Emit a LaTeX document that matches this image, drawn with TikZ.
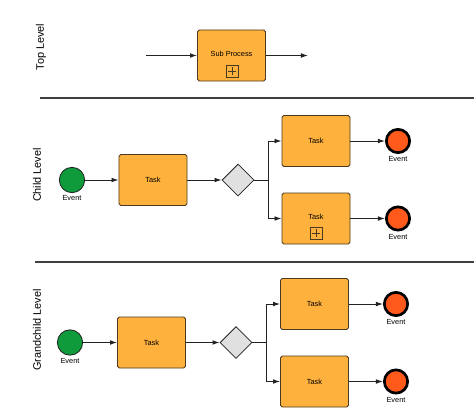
\documentclass[tikz,border=0pt]{standalone}
\usepackage{fontspec}
\setmainfont{Liberation Sans}
\usetikzlibrary{arrows.meta,shapes.geometric}
\definecolor{taskfill}{HTML}{FFB13D}
\definecolor{taskline}{HTML}{4A3A20}
\definecolor{startfill}{HTML}{0F9B3B}
\definecolor{endfill}{HTML}{FF5A1C}
\definecolor{gatefill}{HTML}{E0E0E0}
\definecolor{flowline}{HTML}{222222}
\tikzset{
	task/.style={draw=taskline, fill=taskfill, line width=0.8pt, rounded corners=1.5pt,
		minimum width=2.04cm, minimum height=1.53cm, inner sep=0pt,
		font=\fontsize{6.3}{7}\selectfont},
	plusbox/.style={draw=taskline, line width=0.8pt, minimum size=0.36cm, inner sep=0pt,
		path picture={\draw[taskline, line width=0.8pt]
			([xshift=-0.12cm]path picture bounding box.center) -- ([xshift=0.12cm]path picture bounding box.center)
			([yshift=-0.12cm]path picture bounding box.center) -- ([yshift=0.12cm]path picture bounding box.center);}},
	startevent/.style={circle, draw=flowline, fill=startfill, line width=0.7pt, minimum size=0.76cm, inner sep=0pt},
	endevent/.style={circle, draw=black, fill=endfill, line width=2.3pt, minimum size=0.7cm, inner sep=0pt},
	eventlabel/.style={font=\fontsize{6.3}{7}\selectfont, inner sep=0pt, label distance=2pt},
	gate/.style={diamond, draw=flowline, fill=gatefill, line width=0.7pt, minimum size=0.96cm, inner sep=0pt},
	level/.style={rotate=90, font=\fontsize{9.3}{11}\selectfont},
	flow/.style={draw=flowline, line width=0.8pt, -{Latex[length=6pt,width=4pt]}},
	separator/.style={draw=black!75, line width=0.9pt}
}

\begin{document}
\begin{tikzpicture}[x=0.03cm, y=-0.03cm]
			%%%%% START %%%%%
			\useasboundingbox (0, 0) rectangle (474, 420);
			
			% top level
			\node[level] (top-label) at (41, 47) {Top Level};
			\node[task] (sp) at (231.5, 55.5) {\raisebox{3pt}{Sub Process}};
			\node[plusbox] (sp-plus) at (232, 71) {};
			\coordinate (sp-in) at (146, 55.5);
			\coordinate (sp-out) at (308, 55.5);
			\draw[flow] (sp-in) -- (sp);
			\draw[flow] (sp) -- (sp-out);
			
			\draw[separator] (40, 98) -- (474, 98);
			
			% child level
			\node[level] (c-label) at (37, 175) {Child Level};
			\node[startevent, label={[eventlabel]below:Event}] (c-start) at (72, 180) {};
			\node[task] (c-task) at (153, 180) {Task};
			\node[gate] (c-gate) at (238, 180) {};
			\coordinate (c-fork) at (268, 180);
			\node[task] (c-task1) at (316, 141) {Task};
			\node[task] (c-task2) at (316, 218.5) {\raisebox{3pt}{Task}};
			\node[plusbox] (c-plus) at (316, 233) {};
			\node[endevent, label={[eventlabel]below:Event}] (c-end1) at (398, 141) {};
			\node[endevent, label={[eventlabel]below:Event}] (c-end2) at (398, 218.5) {};
			
			\draw[flow] (c-start) -- (c-task);
			\draw[flow] (c-task) -- (c-gate);
			\draw[draw=flowline, line width=0.8pt] (c-gate.east) -- (c-fork);
			\draw[flow] (c-fork) |- (c-task1.west);
			\draw[flow] (c-fork) |- (c-task2.west);
			\draw[flow] (c-task1) -- (c-end1);
			\draw[flow] (c-task2) -- (c-end2);
			
			\draw[separator] (35, 262) -- (474, 262);
			
			% grandchild level
			\node[level] (g-label) at (37, 330) {Grandchild Level};
			\node[startevent, label={[eventlabel]below:Event}] (g-start) at (70, 342.5) {};
			\node[task] (g-task) at (151.5, 342.5) {Task};
			\node[gate] (g-gate) at (236, 342.5) {};
			\coordinate (g-fork) at (266, 342.5);
			\node[task] (g-task1) at (314.5, 304) {Task};
			\node[task] (g-task2) at (314.5, 381.5) {Task};
			\node[endevent, label={[eventlabel]below:Event}] (g-end1) at (396, 304) {};
			\node[endevent, label={[eventlabel]below:Event}] (g-end2) at (396, 381.5) {};
			
			\draw[flow] (g-start) -- (g-task);
			\draw[flow] (g-task) -- (g-gate);
			\draw[draw=flowline, line width=0.8pt] (g-gate.east) -- (g-fork);
			\draw[flow] (g-fork) |- (g-task1.west);
			\draw[flow] (g-fork) |- (g-task2.west);
			\draw[flow] (g-task1) -- (g-end1);
			\draw[flow] (g-task2) -- (g-end2);
			%%%%% END %%%%%
\end{tikzpicture}
\end{document}
